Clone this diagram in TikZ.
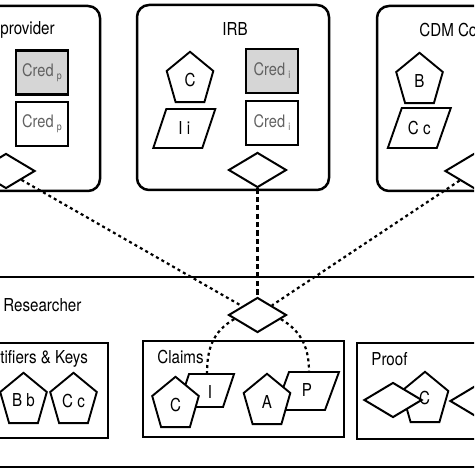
\documentclass[tikz,border=0pt]{standalone}
\usepackage{fontspec}
\setmainfont{TeX Gyre Heros}[FakeStretch=0.85]
\usetikzlibrary{shapes.geometric}
\newcommand\pentshape[4]{%
  \draw[shp] (#2,#3) ++(0,-27.8) -- ++(23.3,19.2) -- ++(-8.9,31.1) -- ++(-28.8,0) -- ++(-8.9,-31.1) -- cycle;
  \node[lab] (#1) at (#2,#3) {#4};}
\newcommand\parashape[7]{%
  \draw[shp] (#2,#3) ++({-#4/2+#6/2},{-#5/2}) -- ++(#4,0) -- ++(-#6,#5) -- ++(-#4,0) -- cycle;}
\begin{document}
\begin{tikzpicture}[x=0.5pt,y=-0.5pt,
  rbox/.style={draw, line width=1.25pt, rounded corners=6pt},
  frame/.style={draw, line width=1.1pt},
  cred/.style={draw, line width=1.1pt, minimum width=26pt, minimum height=22pt, inner sep=0pt, text=black!62, font=\fontsize{8.6}{10}\selectfont},
  credfill/.style={cred, fill=black!16},
  shp/.style={draw, fill=white, line width=0.95pt, line join=miter},
  dia/.style={diamond, draw, fill=white, line width=1pt, inner sep=0pt, minimum width=29pt, minimum height=17.5pt},
  lab/.style={inner sep=0pt, text=black, font=\fontsize{8.9}{10}\selectfont},
  ttl/.style={lab, anchor=base west},
  dotline/.style={line width=1.1pt, dash pattern=on 1.5pt off 1.6pt},
  dashline/.style={line width=1.1pt, dash pattern=on 2.6pt off 1.6pt}]
\newcommand\sub[1]{\hspace{1.6pt}\raisebox{-0.35ex}{\fontsize{5.2}{6}\selectfont #1}}
\path[use as bounding box, clip] (0,0) rectangle (474,474);

% ---- top boxes
\draw[rbox] (-20,6) rectangle (100,191);
\draw[rbox] (137,5) rectangle (329,190);
\draw[rbox] (377,6) rectangle (510,191);
\node[ttl] (prov) at (0,35) {provider};
\node[ttl] (irb) at (222,36) {IRB};
\node[ttl] (cdm) at (419,37) {CDM Co};

\node[credfill] (cp1) at (42,72.5) {Cred\sub{p}};
\node[cred] (cp2) at (42,124) {Cred\sub{p}};
\node[credfill] (ci1) at (272,71) {Cred\sub{i}};
\node[cred] (ci2) at (272,123) {Cred\sub{i}};

\pentshape{pc}{190}{79.6}{C}
\parashape{pii}{184.3}{128.5}{49}{39}{13}{}
\node[lab] (tii) at (184.3,128.5) {I i};
\pentshape{pb}{419.5}{80.6}{B}
\parashape{pcc}{419.3}{128}{49}{40}{14}{}
\node[lab] (tcc) at (419.3,128) {C c};

\node[dia] (d1) at (6,171) {};
\node[dia] (d2) at (257.5,170) {};
\node[dia] (d3) at (474,171) {};

% ---- researcher
\draw[frame] (-20,277) rectangle (510,467);
\node[ttl] (res) at (3,312) {Researcher};
\draw[frame] (-20,343) rectangle (108,438);
\node[ttl] (idk) at (0,363) {tifiers \& Keys};
\draw[frame] (143,341) rectangle (344,437);
\node[ttl] (clm) at (157,363) {Claims};
\draw[frame] (357,343) rectangle (510,439);
\node[ttl] (prf) at (371,365) {Proof};

\pentshape{pbb}{23.5}{400.6}{B b}
\pentshape{pcc2}{73.5}{400.6}{C c}

\parashape{pi}{206}{390.5}{45}{33}{11}{}
\node[lab] (ti) at (210,392) {I};
\coordinate (itop) at (207,374);
\pentshape{pc2}{175.5}{404.6}{C}
\parashape{pp}{307}{391}{50}{38}{14}{}
\node[lab] (tp) at (307,390) {P};
\coordinate (ptop) at (309,372);
\pentshape{pa}{267}{401.6}{A}

\draw[shp] (425,399.6) ++(0,-27.8) -- ++(23.3,19.2) -- ++(-8.9,31.1) -- ++(-28.8,0) -- ++(-8.9,-31.1) -- cycle;
\node[dia] (dp) at (393,400) {};
\node[lab] (tpc) at (424.5,398.5) {C};
\node[dia] (dp2) at (479,401) {};

\node[dia] (dr) at (257.5,315) {};

% ---- connectors
\draw[dotline] (d1) -- (dr);
\draw[dotline] (d3) -- (dr);
\draw[dashline] (d2) -- (dr);
\draw[dotline] (dr.190) .. controls (212,332) and (207,350) .. (itop);
\draw[dotline] (dr.350) .. controls (303,332) and (309,350) .. (ptop);
\end{tikzpicture}
\end{document}
